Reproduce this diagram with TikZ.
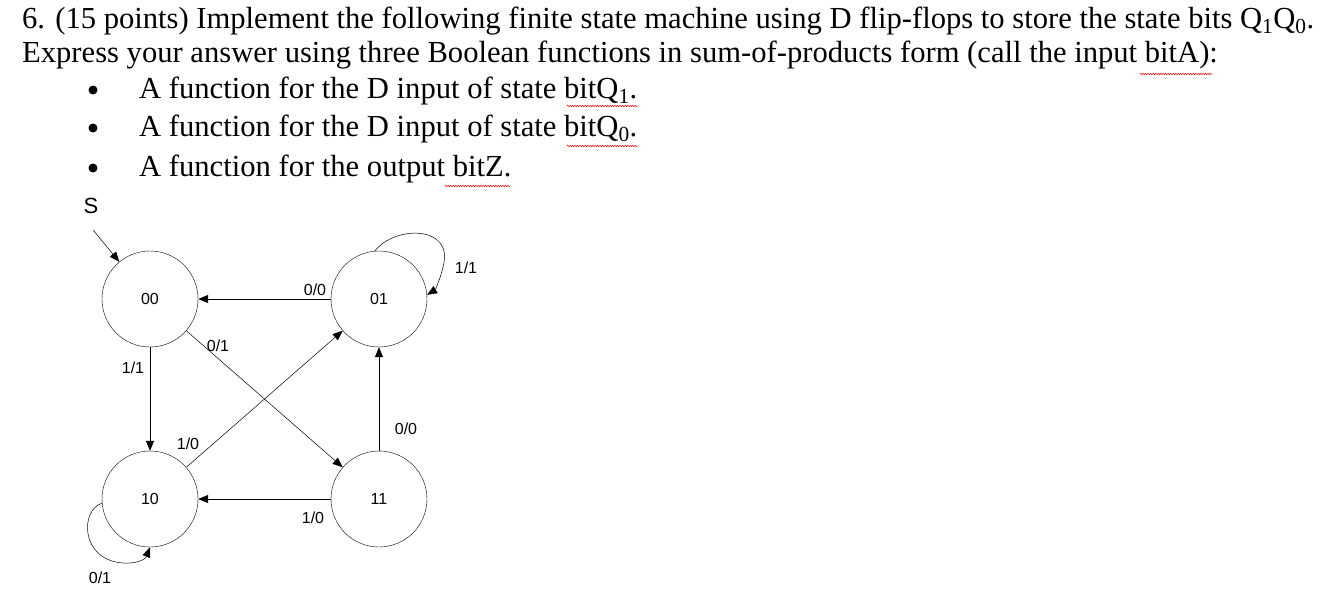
\documentclass[tikz,border=0pt]{standalone}
\usepackage{fontspec}
\setmainfont{Liberation Serif}
\newfontfamily\arial{Liberation Sans}
\usetikzlibrary{arrows.meta,decorations.pathmorphing}
\begin{document}
\begin{tikzpicture}[x=1pt,y=-1pt,
  st/.style={circle,draw,minimum size=96pt,inner sep=0pt,font=\arial\fontsize{16}{18}\selectfont},
  lbl/.style={font=\arial\fontsize{16}{18}\selectfont,inner sep=0pt},
  txt/.style={anchor=base west,inner sep=0pt,font=\fontsize{30.6}{32}\selectfont},
  bul/.style={circle,fill,minimum size=9pt,inner sep=0pt},
  tr/.style={-{Triangle[length=10pt,width=8pt]},line width=0.5pt},
  sq/.style={red,line width=0.5pt,decorate,decoration={zigzag,amplitude=0.8pt,segment length=2.5pt}}]
\useasboundingbox (0,0) rectangle (1342,600);
\node[txt] (l1) at (22,28) {6. (15 points) Implement the following finite state machine using D flip-flops to store the state bits Q\textsubscript{1}Q\textsubscript{0}.};
\node[txt] (l2) at (22,62) {Express your answer using three Boolean functions in sum-of-products form (call the input bitA):};
\foreach \y/\t [count=\i] in {98/{A function for the D input of state bitQ\textsubscript{1}.},136/{A function for the D input of state bitQ\textsubscript{0}.},176/{A function for the output bitZ.}}{
  \node[bul] (b\i) at (93,\y-8) {};
  \node[txt] (t\i) at (139,\y) {\t};
}
\draw[sq] (1140,74) -- (1212,74);
\draw[sq] (567,106) -- (638,106);
\draw[sq] (567,146) -- (638,146);
\draw[sq] (445,186) -- (510,186);
\node[font=\arial\fontsize{22}{24}\selectfont,inner sep=0pt] (S) at (91,206) {S};
\node[st] (s00) at (150,299) {00};
\node[st] (s01) at (379,299) {01};
\node[st] (s10) at (150,499) {10};
\node[st] (s11) at (379,499) {11};
\coordinate (init) at (93,230);
\draw[tr] (init) -- (s00);
\draw[tr,line width=1pt] (s01) -- (s00);
\draw[tr] (s00) -- (s10);
\draw[tr] (s00) -- (s11);
\draw[tr] (s10) -- (s01);
\draw[tr] (s11) -- (s01);
\draw[tr] (s11) -- (s10);
\draw[tr] (s01.95) .. controls (395,225) and (455,225) .. (443,267) .. controls (440,280) and (435,290) .. (s01.5);
\draw[tr] (s10.185) .. controls (80,510) and (80,560) .. (123,563) .. controls (135,564) and (145,560) .. (s10.-90);
\node[lbl] (a) at (466,268) {1/1};
\node[lbl] (b) at (315,290) {0/0};
\node[lbl] (c) at (218,346) {0/1};
\node[lbl] (d) at (133,368) {1/1};
\node[lbl] (e) at (188,444) {1/0};
\node[lbl] (f) at (406,429) {0/0};
\node[lbl] (g) at (313,518) {1/0};
\node[lbl] (h) at (100,578) {0/1};
\end{tikzpicture}
\end{document}
